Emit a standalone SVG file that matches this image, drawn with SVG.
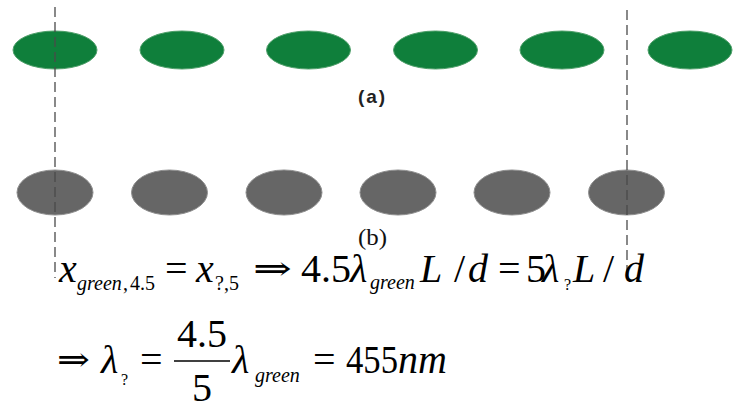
<svg xmlns="http://www.w3.org/2000/svg" width="734" height="409" viewBox="0 0 734 409">
<style>
.g{fill:#0f7f3b;stroke:#4f9f6a;stroke-width:1}
.k{fill:#666666;stroke:#8f8f8f;stroke-width:1}
.dash{stroke:#4a4a4a;stroke-width:1.3;stroke-dasharray:10 5;fill:none}
</style>
<rect width="734" height="409" fill="#fff"/>
<g id="green-row">
<ellipse class="g" cx="55" cy="50" rx="42" ry="19"/>
<ellipse class="g" cx="182" cy="50" rx="42" ry="19"/>
<ellipse class="g" cx="308.5" cy="50" rx="42" ry="19"/>
<ellipse class="g" cx="435.5" cy="50" rx="42" ry="19"/>
<ellipse class="g" cx="562" cy="50" rx="42" ry="19"/>
<ellipse class="g" cx="690" cy="50" rx="42" ry="19"/>
</g>
<g id="gray-row">
<ellipse class="k" cx="55" cy="192.5" rx="38" ry="22.5"/>
<ellipse class="k" cx="169.5" cy="192.5" rx="38" ry="22.5"/>
<ellipse class="k" cx="284" cy="192.5" rx="38" ry="22.5"/>
<ellipse class="k" cx="398" cy="192.5" rx="38" ry="22.5"/>
<ellipse class="k" cx="512" cy="192.5" rx="38" ry="22.5"/>
<ellipse class="k" cx="626.5" cy="192.5" rx="38" ry="22.5"/>
</g>
<g id="labels">
<text x="358" y="103" font-family="Liberation Sans" font-size="19" font-weight="bold" fill="#222" textLength="27" lengthAdjust="spacing">(a)</text>
<text x="358" y="245" font-family="Liberation Serif" font-size="23" fill="#111" textLength="29" lengthAdjust="spacingAndGlyphs">(b)</text>
</g>
<g id="connectors">
<line class="dash" x1="55" y1="7" x2="55" y2="278"/>
<line class="dash" x1="627" y1="10" x2="627" y2="272"/>
</g>
<g id="equation1" font-family="Liberation Serif" font-size="40" fill="#000">
<text x="59" y="282" font-style="italic">x</text>
<text x="77" y="290" font-size="20" font-style="italic">green</text>
<text x="123" y="290" font-size="20">,</text>
<text x="130" y="290" font-size="20">4.5</text>
<text x="165" y="282">=</text>
<text x="196" y="282" font-style="italic">x</text>
<text x="215" y="290" font-size="20">?,5</text>
<text x="253" y="280" font-family="DejaVu Serif" font-size="34" textLength="39" lengthAdjust="spacingAndGlyphs">⇒</text>
<text x="301" y="282">4.5</text>
<text x="350" y="282" font-style="italic">λ</text>
<text x="370" y="289" font-size="20" font-style="italic">green</text>
<text x="420" y="282" font-style="italic">L</text>
<text x="454" y="282">/</text>
<text x="468" y="282" font-style="italic">d</text>
<text x="498" y="282">=</text>
<text x="526" y="282">5</text>
<text x="542" y="282" font-style="italic">λ</text>
<text x="564" y="290" font-size="16">?</text>
<text x="573" y="282" font-style="italic">L</text>
<text x="603" y="282">/</text>
<text x="624" y="282" font-style="italic">d</text>
</g>
<g id="equation2" font-family="Liberation Serif" font-size="40" fill="#000">
<text x="57" y="371" font-family="DejaVu Serif" font-size="34" textLength="33" lengthAdjust="spacingAndGlyphs">⇒</text>
<text x="101" y="373" font-style="italic">λ</text>
<text x="121" y="385" font-size="16">?</text>
<text x="140" y="373">=</text>
<text x="177" y="347">4.5</text>
<line x1="174" y1="361" x2="230" y2="361" stroke="#000" stroke-width="1.6"/>
<text x="192" y="401">5</text>
<text x="232" y="373" font-style="italic">λ</text>
<text x="255" y="382" font-size="20" font-style="italic">green</text>
<text x="313" y="373">=</text>
<text x="346" y="373" textLength="52" lengthAdjust="spacingAndGlyphs">455</text>
<text x="398" y="373" font-style="italic">nm</text>
</g>
</svg>
